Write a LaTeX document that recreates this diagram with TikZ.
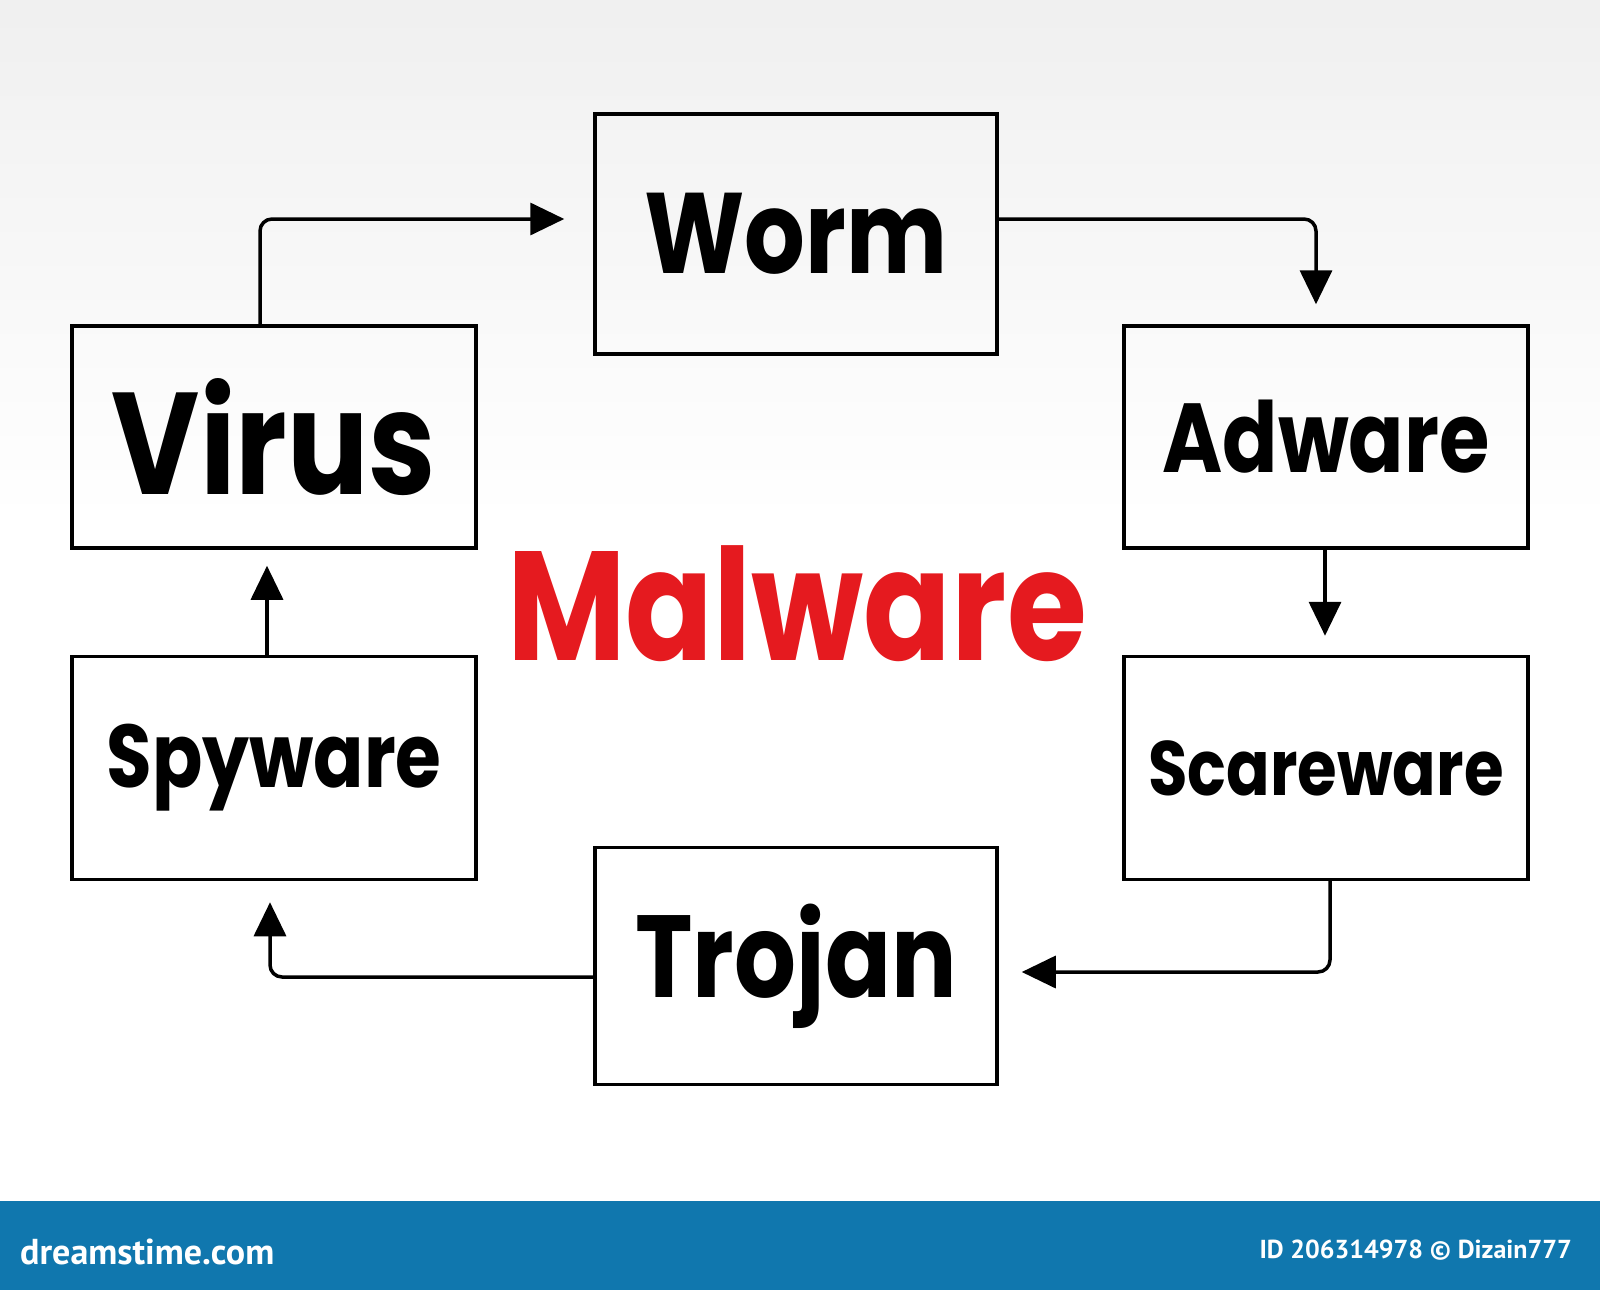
\documentclass[tikz,border=0pt]{standalone}
\usepackage{fontspec}
\setmainfont{Poppins}
\setsansfont{PT Sans}
\usetikzlibrary{arrows.meta}
\definecolor{barblue}{HTML}{1077AE}
\definecolor{mred}{HTML}{E51A1F}
\newcommand{\lbl}[2]{\scalebox{1}[1.2]{\resizebox{#1}{!}{\bfseries #2}}}
\tikzset{
  box/.style={draw=black, line width=3.5pt, fill=none, inner sep=0pt},
  arr/.style={line width=3.5pt, line join=round, line cap=round, rounded corners=12pt,
    -{Triangle[length=34pt,width=32pt]}},
}
\begin{document}
\begin{tikzpicture}[x=1pt,y=-1pt]
\useasboundingbox (0,0) rectangle (1600,1290);
\shade[top color=black!6, bottom color=white] (0,0) rectangle (1600,520);
\fill[white] (0,520) rectangle (1600,1201);
\fill[barblue] (0,1201) rectangle (1600,1290);
% boxes
\node[box, minimum width=402pt, minimum height=240pt] (worm) at (796,234) {\lbl{303pt}{Worm}};
\node[box, minimum width=404pt, minimum height=222pt] (virus) at (274,437) {\lbl{324pt}{Virus}};
\node[box, minimum width=404pt, minimum height=222pt] (adware) at (1326,437) {\lbl{327pt}{Adware}};
\node[box, minimum width=404pt, minimum height=223pt] (spyware) at (274,768) {\lbl{335pt}{Spyware}};
\node[box, minimum width=404pt, minimum height=223pt] (scareware) at (1326,768) {\lbl{355pt}{Scareware}};
\node[box, minimum width=402pt, minimum height=237pt] (trojan) at (796,966) {\lbl{321pt}{Trojan}};
\node[text=mred, inner sep=0pt] (malware) at (797,604) {\lbl{579pt}{Malware}};
% connectors
\draw[arr, shorten >=29pt] ([xshift=-14pt]virus.north) |- ([yshift=15pt]worm.west);
\draw[arr, shorten >=20pt] ([yshift=15pt]worm.east) -| ([xshift=-10pt]adware.north);
\draw[arr, shorten >=19pt] ([xshift=-1pt]adware.south) -- ([xshift=-1pt]scareware.north);
\draw[arr, shorten >=23pt] ([xshift=4pt]scareware.south) |- ([yshift=-6pt]trojan.east);
\draw[arr, shorten >=21pt] ([yshift=-11pt]trojan.west) -| ([xshift=-4pt]spyware.south);
\draw[arr, shorten >=16pt] ([xshift=-7pt]spyware.north) -- ([xshift=-7pt]virus.south);
% footer
\node[text=white, anchor=west, inner sep=0pt, font=\sffamily\bfseries\fontsize{36}{40}\selectfont] (site) at (20,1252) {dreamstime.com};
\node[text=white, anchor=east, inner sep=0pt, font=\sffamily\bfseries\fontsize{26}{30}\selectfont] (credit) at (1572,1250) {ID 206314978 © Dizain777};
\end{tikzpicture}
\end{document}
